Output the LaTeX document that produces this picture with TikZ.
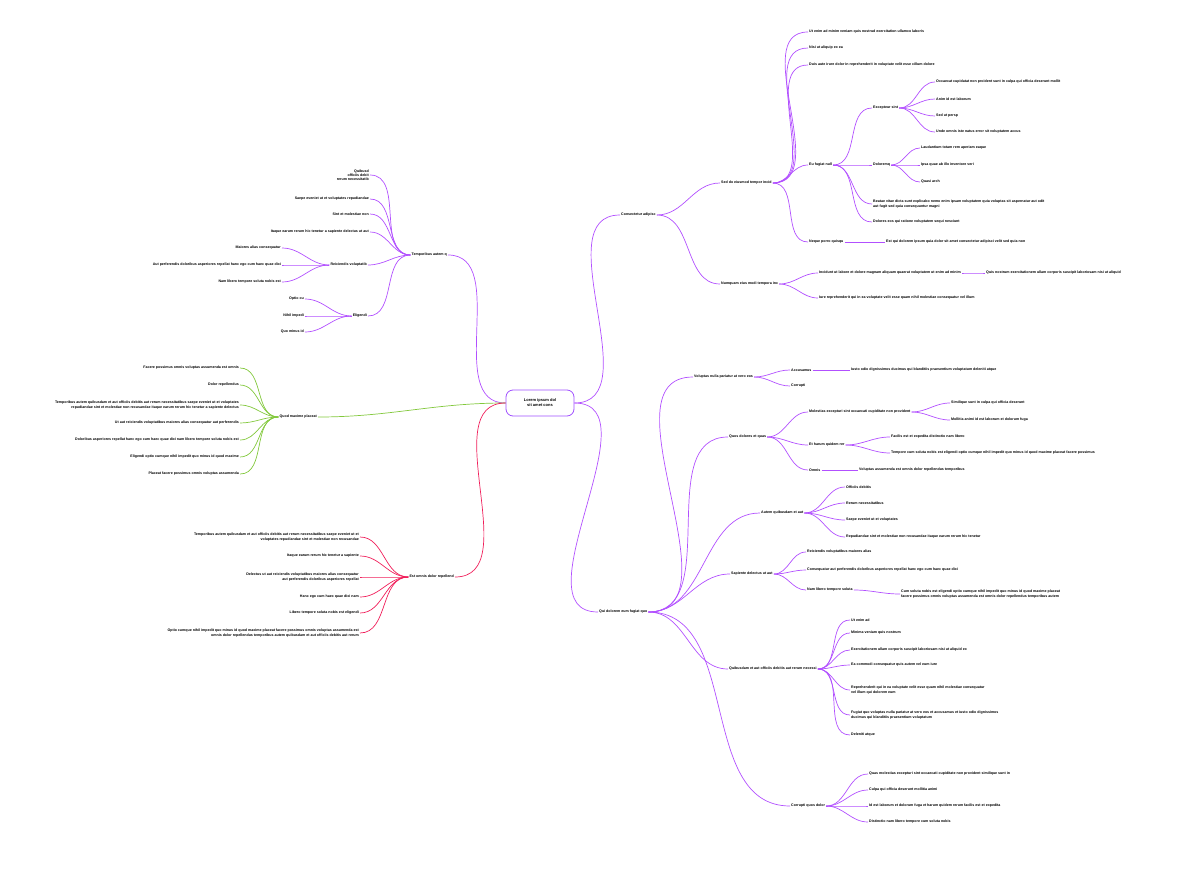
\documentclass[tikz,border=0pt]{standalone}
\usepackage{fontspec}
\setmainfont{Liberation Sans}
\begin{document}
\begin{tikzpicture}[x=1pt,y=-1pt,
  t/.style={font=\fontsize{3.6}{4.2}\selectfont\bfseries,inner sep=1pt,align=left},
  R/.style={t,anchor=west},
  L/.style={t,anchor=east,align=right},
  pe/.style={draw={rgb,255:red,178;green,80;blue,255},line width=0.7pt},
  ge/.style={draw={rgb,255:red,130;green,200;blue,60},line width=0.7pt},
  re/.style={draw={rgb,255:red,240;green,30;blue,90},line width=0.7pt}]
\useasboundingbox (0,0) rectangle (1200,886);
\node[draw={rgb,255:red,160;green,80;blue,255},line width=0.8pt,rounded corners=7pt,minimum width=68pt,minimum height=26pt,align=center,font=\fontsize{4}{5}\selectfont\bfseries] (c) at (540,403) {Lorem ipsum dol\\sit amet cons};
% right upper
\node[R] (b1) at (620,215) {Consectetur adipisc};
\node[R] (b1a) at (720,183) {Sed do eiusmod tempor incid};
\node[R] (a1) at (808,32) {Ut enim ad minim veniam quis nostrud exercitation ullamco laboris};
\node[R] (a2) at (808,48) {Nisi ut aliquip ex ea};
\node[R] (a3) at (808,65) {Duis aute irure dolor in reprehenderit in voluptate velit esse cillum dolore};
\node[R] (cc) at (808,165) {Eu fugiat null};
\node[R] (d1) at (872,108) {Excepteur sint};
\node[R] (e1) at (935,82) {Occaecat cupidatat non proident sunt in culpa qui officia deserunt mollit};
\node[R] (e2) at (935,99) {Anim id est laborum};
\node[R] (e3) at (935,116) {Sed ut persp};
\node[R] (e4) at (935,132) {Unde omnis iste natus error sit voluptatem accus};
\node[R] (d2) at (872,165) {Doloremq};
\node[R] (f1) at (920,148) {Laudantium totam rem aperiam eaque};
\node[R] (f2) at (920,165) {Ipsa quae ab illo inventore veri};
\node[R] (f3) at (920,182) {Quasi arch};
\node[R] (d3) at (872,204) {Beatae vitae dicta sunt explicabo nemo enim ipsam voluptatem quia voluptas sit aspernatur aut odit\\aut fugit sed quia consequuntur magni};
\node[R] (d4) at (872,222) {Dolores eos qui ratione voluptatem sequi nesciunt};
\node[R] (a4) at (808,242) {Neque porro quisqu};
\node[R] (a5) at (885,242) {Est qui dolorem ipsum quia dolor sit amet consectetur adipisci velit sed quia non};
\node[R] (b1b) at (720,284) {Numquam eius modi tempora inc};
\node[R] (g1) at (818,273) {Incidunt ut labore et dolore magnam aliquam quaerat voluptatem ut enim ad minim};
\node[R] (g1a) at (985,273) {Quis nostrum exercitationem ullam corporis suscipit laboriosam nisi ut aliquid};
\node[R] (g2) at (818,298) {Iure reprehenderit qui in ea voluptate velit esse quam nihil molestiae consequatur vel illum};
\draw[pe] (c.east) to[out=0,in=180] (b1.west);
\draw[pe] (b1.east) to[out=0,in=180] (b1a.west);
\draw[pe] (b1.east) to[out=0,in=180] (b1b.west);
\foreach \n in {a1,a2,a3,cc,a4}{\draw[pe] (b1a.east) to[out=0,in=180] (\n.west);}
\draw[pe] (a4.east) -- (a5.west);
\foreach \n in {d1,d2,d3,d4}{\draw[pe] (cc.east) to[out=0,in=180] (\n.west);}
\foreach \n in {e1,e2,e3,e4}{\draw[pe] (d1.east) to[out=0,in=180] (\n.west);}
\foreach \n in {f1,f2,f3}{\draw[pe] (d2.east) to[out=0,in=180] (\n.west);}
\foreach \n in {g1,g2}{\draw[pe] (b1b.east) to[out=0,in=180] (\n.west);}
\draw[pe] (g1.east) to[out=0,in=180] (g1a.west);
% right lower
\node[R] (b2) at (598,612) {Qui dolorem eum fugiat quo};
\node[R] (h1) at (693,377) {Voluptas nulla pariatur at vero eos};
\node[R] (h1a) at (790,370) {Accusamus};
\node[R] (h1b) at (850,370) {Iusto odio dignissimos ducimus qui blanditiis praesentium voluptatum deleniti atque};
\node[R] (h1c) at (790,386) {Corrupti};
\node[R] (h2) at (728,437) {Quos dolores et quas};
\node[R] (i1) at (808,412) {Molestias excepturi sint occaecati cupiditate non provident};
\node[R] (i1a) at (950,403) {Similique sunt in culpa qui officia deserunt};
\node[R] (i1b) at (950,420) {Mollitia animi id est laborum et dolorum fuga};
\node[R] (i2) at (808,445) {Et harum quidem rer};
\node[R] (i2a) at (890,437) {Facilis est et expedita distinctio nam libero};
\node[R] (i2b) at (890,453) {Tempore cum soluta nobis est eligendi optio cumque nihil impedit quo minus id quod maxime placeat facere possimus};
\node[R] (i3) at (808,470) {Omnis};
\node[R] (i3a) at (858,470) {Voluptas assumenda est omnis dolor repellendus temporibus};
\node[R] (h3) at (760,513) {Autem quibusdam et aut};
\foreach \y/\s [count=\k] in {487/Officiis debitis,503/Rerum necessitatibus,520/Saepe eveniet ut et voluptates,537/Repudiandae sint et molestiae non recusandae itaque earum rerum hic tenetur}{\node[R] (j\k) at (845,\y) {\s};}
\node[R] (h4) at (730,574) {Sapiente delectus ut aut};
\node[R] (k1) at (806,552) {Reiciendis voluptatibus maiores alias};
\node[R] (k2) at (806,570) {Consequatur aut perferendis doloribus asperiores repellat hanc ego cum haec quae dixi};
\node[R] (k3) at (806,590) {Nam libero tempore soluta};
\node[R] (k3a) at (900,594) {Cum soluta nobis est eligendi optio cumque nihil impedit quo minus id quod maxime placeat\\facere possimus omnis voluptas assumenda est omnis dolor repellendus temporibus autem};
\node[R] (h5) at (728,669) {Quibusdam et aut officiis debitis aut rerum necessi};
\node[R] (m1) at (850,620) {Ut enim ad};
\node[R] (m2) at (850,633) {Minima veniam quis nostrum};
\node[R] (m3) at (850,650) {Exercitationem ullam corporis suscipit laboriosam nisi ut aliquid ex};
\node[R] (m4) at (850,665) {Ea commodi consequatur quis autem vel eum iure};
\node[R] (m5) at (850,690) {Reprehenderit qui in ea voluptate velit esse quam nihil molestiae consequatur\\vel illum qui dolorem eum};
\node[R] (m6) at (850,715) {Fugiat quo voluptas nulla pariatur at vero eos et accusamus et iusto odio dignissimos\\ducimus qui blanditiis praesentium voluptatum};
\node[R] (m7) at (850,735) {Deleniti atque};
\node[R] (h6) at (790,806) {Corrupti quos dolor};
\node[R] (n1) at (868,774) {Quas molestias excepturi sint occaecati cupiditate non provident similique sunt in};
\node[R] (n2) at (868,790) {Culpa qui officia deserunt mollitia animi};
\node[R] (n3) at (868,806) {Id est laborum et dolorum fuga et harum quidem rerum facilis est et expedita};
\node[R] (n4) at (868,822) {Distinctio nam libero tempore cum soluta nobis};
\draw[pe] (c.east) to[out=0,in=180] (b2.west);
\foreach \n in {h1,h2,h3,h4,h5,h6}{\draw[pe] (b2.east) to[out=0,in=180] (\n.west);}
\foreach \n in {h1a,h1c}{\draw[pe] (h1.east) to[out=0,in=180] (\n.west);}
\draw[pe] (h1a.east) -- (h1b.west);
\foreach \n in {i1,i2,i3}{\draw[pe] (h2.east) to[out=0,in=180] (\n.west);}
\foreach \n in {i1a,i1b}{\draw[pe] (i1.east) to[out=0,in=180] (\n.west);}
\foreach \n in {i2a,i2b}{\draw[pe] (i2.east) to[out=0,in=180] (\n.west);}
\draw[pe] (i3.east) -- (i3a.west);
\foreach \n in {j1,j2,j3,j4}{\draw[pe] (h3.east) to[out=0,in=180] (\n.west);}
\foreach \n in {k1,k2,k3}{\draw[pe] (h4.east) to[out=0,in=180] (\n.west);}
\draw[pe] (k3.east) to[out=0,in=180] (k3a.west);
\foreach \n in {m1,m2,m3,m4,m5,m6,m7}{\draw[pe] (h5.east) to[out=0,in=180] (\n.west);}
\foreach \n in {n1,n2,n3,n4}{\draw[pe] (h6.east) to[out=0,in=180] (\n.west);}
% left purple
\node[L] (l1) at (448,255) {Temporibus autem q};
\node[L] (p1) at (370,175) {Quibusd\\officiis debit\\rerum necessitatib};
\node[L] (p2) at (370,199) {Saepe eveniet ut et voluptates repudiandae};
\node[L] (p3) at (370,214) {Sint et molestiae non};
\node[L] (p4) at (370,232) {Itaque earum rerum hic tenetur a sapiente delectus ut aut};
\node[L] (p5) at (368,265) {Reiciendis voluptatib};
\node[L] (q1) at (282,248) {Maiores alias consequatur};
\node[L] (q2) at (282,265) {Aut perferendis doloribus asperiores repellat hanc ego cum haec quae dixi};
\node[L] (q3) at (282,282) {Nam libero tempore soluta nobis est};
\node[L] (p6) at (368,316) {Eligendi};
\node[L] (r1) at (305,299) {Optio cu};
\node[L] (r2) at (305,316) {Nihil impedi};
\node[L] (r3) at (305,332) {Quo minus id};
\draw[pe] (c.west) to[out=180,in=0] (l1.east);
\foreach \n in {p1,p2,p3,p4,p5,p6}{\draw[pe] (l1.west) to[out=180,in=0] (\n.east);}
\foreach \n in {q1,q2,q3}{\draw[pe] (p5.west) to[out=180,in=0] (\n.east);}
\foreach \n in {r1,r2,r3}{\draw[pe] (p6.west) to[out=180,in=0] (\n.east);}
% left green
\node[L] (l2) at (318,417) {Quod maxime placeat};
\node[L] (s1) at (240,368) {Facere possimus omnis voluptas assumenda est omnis};
\node[L] (s2) at (240,385) {Dolor repellendus};
\node[L] (s3) at (240,405) {Temporibus autem quibusdam et aut officiis debitis aut rerum necessitatibus saepe eveniet ut et voluptates\\repudiandae sint et molestiae non recusandae itaque earum rerum hic tenetur a sapiente delectus};
\node[L] (s4) at (240,423) {Ut aut reiciendis voluptatibus maiores alias consequatur aut perferendis};
\node[L] (s5) at (240,440) {Doloribus asperiores repellat hanc ego cum haec quae dixi nam libero tempore soluta nobis est};
\node[L] (s6) at (240,457) {Eligendi optio cumque nihil impedit quo minus id quod maxime};
\node[L] (s7) at (240,474) {Placeat facere possimus omnis voluptas assumenda};
\draw[ge] (c.west) to[out=180,in=0] (l2.east);
\foreach \n in {s1,s2,s3,s4,s5,s6,s7}{\draw[ge] (l2.west) to[out=180,in=0] (\n.east);}
% left red
\node[L] (l3) at (455,577) {Est omnis dolor repellend};
\node[L] (u1) at (360,537) {Temporibus autem quibusdam et aut officiis debitis aut rerum necessitatibus saepe eveniet ut et\\voluptates repudiandae sint et molestiae non recusandae};
\node[L] (u2) at (360,556) {Itaque earum rerum hic tenetur a sapiente};
\node[L] (u3) at (360,577) {Delectus ut aut reiciendis voluptatibus maiores alias consequatur\\aut perferendis doloribus asperiores repellat};
\node[L] (u4) at (360,597) {Hanc ego cum haec quae dixi nam};
\node[L] (u5) at (360,613) {Libero tempore soluta nobis est eligendi};
\node[L] (u6) at (360,633) {Optio cumque nihil impedit quo minus id quod maxime placeat facere possimus omnis voluptas assumenda est\\omnis dolor repellendus temporibus autem quibusdam et aut officiis debitis aut rerum};
\draw[re] (c.west) to[out=180,in=0] (l3.east);
\foreach \n in {u1,u2,u3,u4,u5,u6}{\draw[re] (l3.west) to[out=180,in=0] (\n.east);}
\end{tikzpicture}
\end{document}
